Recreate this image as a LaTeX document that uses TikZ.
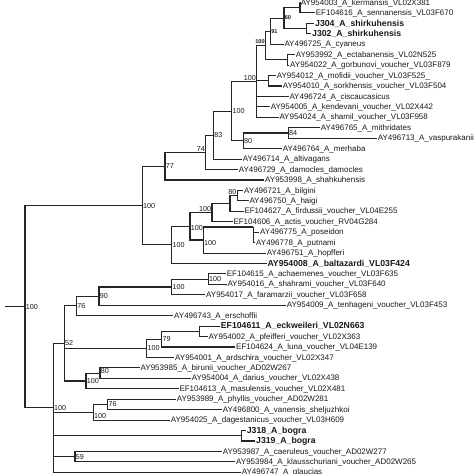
\documentclass[tikz,border=0pt]{standalone}
\usepackage{fontspec}
\setmainfont{Liberation Sans}

\begin{document}
\begin{tikzpicture}[
  x = 1pt, y = -10.44pt,
  br/.style   = {line width=1.1pt, draw=black!85, line join=miter},
  leaf/.style = {anchor=west, inner xsep=0.8pt, inner ysep=0pt,
                 font=\fontsize{8}{9}\selectfont, text=black!90,
                 text height=5.8pt, text depth=0.6pt},
  hit/.style  = {leaf, font=\fontsize{8.7}{9}\selectfont\bfseries,
                 text height=6.3pt},
  bs/.style   = {anchor=west, inner sep=0.6pt,
                 font=\fontsize{7.2}{8}\selectfont, text=black!90},
  bsl/.style  = {bs, anchor=south east},
  bsb/.style  = {bs, font=\fontsize{5.6}{6}\selectfont\bfseries},
]
\useasboundingbox (0,-0.2395) rectangle (474,45.163);
\clip (0,-0.2395) rectangle (474,45.163);

% ── Leaves (one row per taxon) ───────────────────────────────
\node[leaf] (kerm) at (299.9,0)  {AY954003\_A\_kermansis\_VL02X381};
\node[leaf] (senn) at (314.9,1)  {EF104616\_A\_sennanensis\_VL03F670};
\node[hit]  (j304) at (314.2,2)  {J304\_A\_shirkuhensis};
\node[hit]  (j302) at (311.2,3)  {J302\_A\_shirkuhensis};
\node[leaf] (cyan) at (283.5,4)  {AY496725\_A\_cyaneus};
\node[leaf] (ecta) at (294.9,5)  {AY953992\_A\_ectabanensis\_VL02N525};
\node[leaf] (gorb) at (289.2,6)  {AY954022\_A\_gorbunovi\_voucher\_VL03F879};
\node[leaf] (mofi) at (275.9,7)  {AY954012\_A\_mofidii\_voucher\_VL03F525\_};
\node[leaf] (sork) at (281.9,8)  {AY954010\_A\_sorkhensis\_voucher\_VL03F504};
\node[leaf] (cisc) at (288.5,9)  {AY496724\_A\_ciscaucasicus};
\node[leaf] (kend) at (269.9,10) {AY954005\_A\_kendevani\_voucher\_VL02X442};
\node[leaf] (sham) at (278.5,11) {AY954024\_A\_shamil\_voucher\_VL03F958};
\node[leaf] (mith) at (319.9,12) {AY496765\_A\_mithridates};
\node[leaf] (vasp) at (376.9,13) {AY496713\_A\_vaspurakanii};
\node[leaf] (merh) at (281.9,14) {AY496764\_A\_merhaba};
\node[leaf] (alti) at (241.9,15) {AY496714\_A\_altivagans};
\node[leaf] (damo) at (237.9,16) {AY496729\_A\_damocles\_damocles};
\node[leaf] (shah) at (264.2,17) {AY953998\_A\_shahkuhensis};
\node[leaf] (bilg) at (243.2,18) {AY496721\_A\_bilgini};
\node[leaf] (haig) at (248.5,19) {AY496750\_A\_haigi};
\node[leaf] (fird) at (243.5,20) {EF104627\_A\_firdussii\_voucher\_VL04E255};
\node[leaf] (acti) at (232.5,21) {EF104606\_A\_actis\_voucher\_RV04G284};
\node[leaf] (pose) at (259.2,22) {AY496775\_A\_poseidon};
\node[leaf] (putn) at (255.2,23) {AY496778\_A\_putnami};
\node[leaf] (hopf) at (265.9,24) {AY496751\_A\_hopfferi};
\node[hit]  (balt) at (266.5,25) {AY954008\_A\_baltazardi\_VL03F424};
\node[leaf] (acha) at (225.9,26) {EF104615\_A\_achaemenes\_voucher\_VL03F635};
\node[leaf] (shar) at (226.5,27) {AY954016\_A\_shahrami\_voucher\_VL03F640};
\node[leaf] (fara) at (205.2,28) {AY954017\_A\_faramarzii\_voucher\_VL03F658};
\node[leaf] (tenh) at (285.9,29) {AY954009\_A\_tenhageni\_voucher\_VL03F453};
\node[leaf] (ersc) at (173.2,30) {AY496743\_A\_erschoffii};
\node[hit]  (eckw) at (219.9,31) {EF104611\_A\_eckweileri\_VL02N663};
\node[leaf] (pfei) at (207.5,32) {AY954002\_A\_pfeifferi\_voucher\_VL02X363};
\node[leaf] (luna) at (235.2,33) {EF104624\_A\_luna\_voucher\_VL04E139};
\node[leaf] (ards) at (174.2,34) {AY954001\_A\_ardschira\_voucher\_VL02X347};
\node[leaf] (biru) at (139.7,35) {AY953985\_A\_birunii\_voucher\_AD02W267};
\node[leaf] (dari) at (190.9,36) {AY954004\_A\_darius\_voucher\_VL02X438};
\node[leaf] (masu) at (178.5,37) {EF104613\_A\_masulensis\_voucher\_VL02X481};
\node[leaf] (phyl) at (175.9,38) {AY953989\_A\_phyllis\_voucher\_AD02W281};
\node[leaf] (vane) at (221.9,39) {AY496800\_A\_vanensis\_sheljuzhkoi};
\node[leaf] (dage) at (169.9,40) {AY954025\_A\_dagestanicus\_voucher\_VL03H609};
\node[hit]  (j318) at (245.9,41) {J318\_A\_bogra};
\node[hit]  (j319) at (255.2,42) {J319\_A\_bogra};
\node[leaf] (caer) at (221.9,43) {AY953987\_A\_caeruleus\_voucher\_AD02W277};
\node[leaf] (klau) at (235.2,44) {AY953984\_A\_klausschuriani\_voucher\_AD02W265};
\node[leaf] (glau) at (240.9,45) {AY496747\_A\_glaucias};

% ── Internal nodes ───────────────────────────────────────────
\coordinate (kerSen) at (300,0.5);
\coordinate (shirk)  at (306.7,2.5);
\coordinate (b60)    at (284,1.5);
\coordinate (b91)    at (270.5,2.75);
\coordinate (ectGor) at (287.3,5.5);
\coordinate (b100c)  at (265.5,4.125);
\coordinate (mofSor) at (268.3,7.5);
\coordinate (b100b)  at (256.7,7.5625);
\coordinate (b84)    at (288.3,12.5);
\coordinate (b80a)   at (243.3,13.25);
\coordinate (b100a)  at (231.7,10.406);
\coordinate (b83)    at (213.5,12.703);
\coordinate (b74)    at (205.7,14.352);
\coordinate (b77)    at (165,15.676);
\coordinate (bilHai) at (237.3,18.5);
\coordinate (firdu)  at (230,19.25);
\coordinate (b100p)  at (212,20.125);
\coordinate (posPut) at (253.3,21.5);
\coordinate (b100s)  at (203.3,22.75);
\coordinate (b100r)  at (190,21.4375);
\coordinate (b100t)  at (171.7,23.219);
\coordinate (b100m)  at (142.3,19.447);
\coordinate (achSha) at (208.3,26.5);
\coordinate (b100cc) at (171.7,27.25);
\coordinate (b90)    at (99,28.125);
\coordinate (b76y)   at (76.5,29.0625);
\coordinate (eckPfe) at (199.5,31.5);
\coordinate (b79)    at (161.7,32.25);
\coordinate (b100z)  at (146.7,33.125);
\coordinate (b80g)   at (100,35.5);
\coordinate (b100aa) at (86,36.25);
\coordinate (b52)    at (64.3,32.656);
\coordinate (b76x)   at (107.7,38.5);
\coordinate (b100w)  at (93.3,39.25);
\coordinate (bogra)  at (241.7,41.5);
\coordinate (b59)    at (75,43.5);
\coordinate (b100u)  at (53.3,38.828);
\coordinate (root)   at (25,29.138);
\coordinate (stub)   at (5,29.138);

% ── Branches ─────────────────────────────────────────────────
\draw[br] (kerSen) |- (kerm.west);  \draw[br] (kerSen) |- (senn.west);
\draw[br] (shirk)  |- (j304.west);  \draw[br] (shirk)  |- (j302.west);
\draw[br] (b60)    |- (kerSen);     \draw[br] (b60)    |- (shirk);
\draw[br] (b91)    |- (b60);        \draw[br] (b91)    |- (cyan.west);
\draw[br] (ectGor) |- (ecta.west);  \draw[br] (ectGor) |- (gorb.west);
\draw[br] (b100c)  |- (b91);        \draw[br] (b100c)  |- (ectGor);
\draw[br] (mofSor) |- (mofi.west);  \draw[br] (mofSor) |- (sork.west);
\draw[br] (b100b)  |- (b100c);      \draw[br] (b100b)  |- (mofSor);
\draw[br] (b100b)  |- (cisc.west);  \draw[br] (b100b)  |- (kend.west);
\draw[br] (b100b)  |- (sham.west);
\draw[br] (b84)    |- (mith.west);  \draw[br] (b84)    |- (vasp.west);
\draw[br] (b80a)   |- (b84);        \draw[br] (b80a)   |- (merh.west);
\draw[br] (b100a)  |- (b100b);      \draw[br] (b100a)  |- (b80a);
\draw[br] (b83)    |- (b100a);      \draw[br] (b83)    |- (alti.west);
\draw[br] (b74)    |- (b83);        \draw[br] (b74)    |- (damo.west);
\draw[br] (b77)    |- (b74);        \draw[br] (b77)    |- (shah.west);
\draw[br] (bilHai) |- (bilg.west);  \draw[br] (bilHai) |- (haig.west);
\draw[br] (firdu)  |- (bilHai);     \draw[br] (firdu)  |- (fird.west);
\draw[br] (b100p)  |- (firdu);      \draw[br] (b100p)  |- (acti.west);
\draw[br] (posPut) |- (pose.west);  \draw[br] (posPut) |- (putn.west);
\draw[br] (b100s)  |- (posPut);     \draw[br] (b100s)  |- (hopf.west);
\draw[br] (b100r)  |- (b100p);      \draw[br] (b100r)  |- (b100s);
\draw[br] (b100t)  |- (b100r);      \draw[br] (b100t)  |- (balt.west);
\draw[br] (b100m)  |- (b77);        \draw[br] (b100m)  |- (b100t);
\draw[br] (achSha) |- (acha.west);  \draw[br] (achSha) |- (shar.west);
\draw[br] (b100cc) |- (achSha);     \draw[br] (b100cc) |- (fara.west);
\draw[br] (b90)    |- (b100cc);     \draw[br] (b90)    |- (tenh.west);
\draw[br] (b76y)   |- (b90);        \draw[br] (b76y)   |- (ersc.west);
\draw[br] (eckPfe) |- (eckw.west);  \draw[br] (eckPfe) |- (pfei.west);
\draw[br] (b79)    |- (eckPfe);     \draw[br] (b79)    |- (luna.west);
\draw[br] (b100z)  |- (b79);        \draw[br] (b100z)  |- (ards.west);
\draw[br] (b80g)   |- (biru.west);  \draw[br] (b80g)   |- (dari.west);
\draw[br] (b100aa) |- (b80g);       \draw[br] (b100aa) |- (masu.west);
\draw[br] (b52)    |- (b76y);       \draw[br] (b52)    |- (b100z);
\draw[br] (b52)    |- (b100aa);
\draw[br] (b76x)   |- (phyl.west);  \draw[br] (b76x)   |- (vane.west);
\draw[br] (b100w)  |- (b76x);       \draw[br] (b100w)  |- (dage.west);
\draw[br] (bogra)  |- (j318.west);  \draw[br] (bogra)  |- (j319.west);
\draw[br] (b59)    |- (caer.west);  \draw[br] (b59)    |- (klau.west);
\draw[br] (b100u)  |- (b52);        \draw[br] (b100u)  |- (b100w);
\draw[br] (b100u)  |- (bogra);      \draw[br] (b100u)  |- (b59);
\draw[br] (b100u)  |- (glau.west);
\draw[br] (root)   |- (b100m);      \draw[br] (root)   |- (b100u);
\draw[br] (stub)   -- (root);

% ── Bootstrap values ─────────────────────────────────────────
\node[bsb, yshift=1pt]        (l60)    at (b60)    {60};
\node[bsb]                    (l91)    at (b91)    {91};
\node[bsb, anchor=south east, yshift=1pt] (l100c) at (b100c) {100};
\node[bsl]                    (l100b)  at (b100b)  {100};
\node[bs]                     (l84)    at (b84)    {84};
\node[bs]                     (l80a)   at (b80a)   {80};
\node[bs]                     (l100a)  at (b100a)  {100};
\node[bs]                     (l83)    at (b83)    {83};
\node[bsl]                    (l74)    at (b74)    {74};
\node[bs]                     (l77)    at (b77)    {77};
\node[bsl]                    (l80b)   at (bilHai) {80};
\node[bsl]                    (l100p)  at (b100p)  {100};
\node[bs, yshift=-2pt]        (l100r)  at (b100r)  {100};
\node[bs, yshift=-3pt]        (l100s)  at (b100s)  {100};
\node[bs]                     (l100t)  at (b100t)  {100};
\node[bs]                     (l100m)  at (b100m)  {100};
\node[bs]                     (l100dd) at (achSha) {100};
\node[bs]                     (l100cc) at (b100cc) {100};
\node[bs]                     (l90)    at (b90)    {90};
\node[bs]                     (l76y)   at (b76y)   {76};
\node[bs]                     (l79)    at (b79)    {79};
\node[bs]                     (l100z)  at (b100z)  {100};
\node[bs, yshift=2pt]         (l80g)   at (b80g)   {80};
\node[bs]                     (l100aa) at (b100aa) {100};
\node[bs]                     (l52)    at (b52)    {52};
\node[bs]                     (l76x)   at (b76x)   {76};
\node[bs, anchor=north west]  (l100w)  at (b100w)  {100};
\node[bs]                     (l59)    at (b59)    {59};
\node[bs]                     (l100u)  at (b100u)  {100};
\node[bs]                     (l100rt) at (root)   {100};

\end{tikzpicture}
\end{document}
